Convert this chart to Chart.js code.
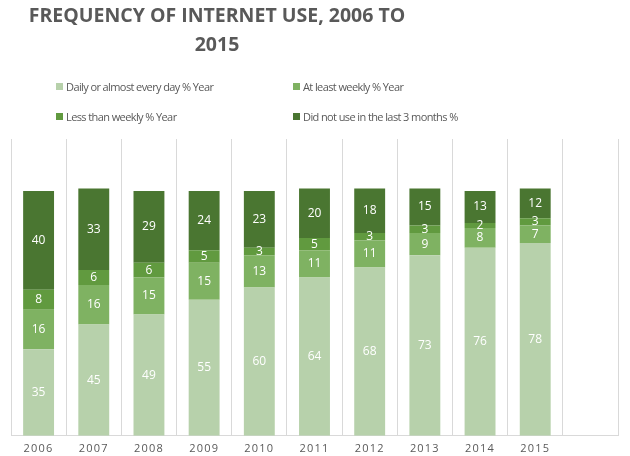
<!DOCTYPE html>
<html>
<head>
<meta charset="utf-8">
<script src="https://cdn.jsdelivr.net/npm/chart.js@4.4.1/dist/chart.umd.min.js"></script>
<style>
  body { margin: 0; background: #fff; }
  #wrap { position: relative; width: 630px; height: 456px; }
  #title {
    position: absolute; left: 0; top: 0; width: 434px;
    text-align: center; font-family: "Open Sans", sans-serif; font-weight: bold;
    font-size: 19.5px; line-height: 29px; color: #595959; letter-spacing: 0px;
  }
  #legend {
    position: absolute; left: 56px; top: 79px; width: 560px;
    font-family: "Open Sans", sans-serif; font-size: 11px; letter-spacing: -0.6px; color: #595959;
  }
  .item { position: absolute; white-space: nowrap; display: flex; align-items: center; }
  .box { width: 7px; height: 7px; margin-right: 3px; }
</style>
</head>
<body>
<div id="wrap">
  <canvas id="chart" width="630" height="456"></canvas>
  <div id="title">FREQUENCY OF INTERNET USE, 2006 TO<br>2015</div>
  <div id="legend"></div>
</div>
<script>
// Years on the x axis (last slot is left empty like the original)
const years = ['2006', '2007', '2008', '2009', '2010', '2011', '2012', '2013', '2014', '2015', ''];

// Series values
const daily = [35, 45, 49, 55, 60, 64, 68, 73, 76, 78];
const weekly = [16, 16, 15, 15, 13, 11, 11, 9, 8, 7];
const lessWeekly = [8, 6, 6, 5, 3, 5, 3, 3, 2, 3];
const notUsed = [40, 33, 29, 24, 23, 20, 18, 15, 13, 12];

const seriesNames = [
  'Daily or almost every day % Year',
  'At least weekly % Year',
  'Less than weekly % Year',
  'Did not use in the last 3 months %',
];
const colors = ['#b7d1ab', '#7fb262', '#619a3f', '#4a7631'];

// Spaced-out year labels, like the original axis
const spacedTicks = {
  id: 'spacedTicks',
  beforeDraw(chart) {
    chart.ctx.letterSpacing = '1.2px';
  },
};

// Draws the value in the middle of each bar segment
const valueLabels = {
  id: 'valueLabels',
  afterDatasetsDraw(chart) {
    const ctx = chart.ctx;
    ctx.save();
    ctx.letterSpacing = '0px';
    ctx.font = '12px "Open Sans", sans-serif';
    ctx.fillStyle = '#ffffff';
    ctx.textAlign = 'center';
    ctx.textBaseline = 'middle';
    chart.data.datasets.forEach((ds, i) => {
      const meta = chart.getDatasetMeta(i);
      meta.data.forEach((bar, j) => {
        const v = ds.data[j];
        if (v == null) return;
        ctx.fillText(String(v), bar.x, (bar.y + bar.base) / 2);
      });
    });
    ctx.restore();
  },
};

const datasets = [daily, weekly, lessWeekly, notUsed].map((values, i) => ({
  label: seriesNames[i],
  data: values,
  backgroundColor: colors[i],
  borderWidth: 0,
  categoryPercentage: 1,
  barPercentage: 0.56,
}));

new Chart(document.getElementById('chart'), {
  type: 'bar',
  data: { labels: years, datasets: datasets },
  options: {
    responsive: false,
    animation: false,
    layout: { padding: { top: 139, left: 11, right: 12, bottom: -5 } },
    plugins: {
      legend: { display: false },
      title: { display: false },
      tooltip: { enabled: false },
    },
    scales: {
      x: {
        stacked: true,
        grid: { color: '#d9d9d9', drawTicks: false, offset: true },
        border: { color: '#d9d9d9' },
        ticks: {
          color: '#595959',
          font: { family: '"Open Sans", sans-serif', size: 11 },
          padding: 6,
        },
      },
      y: { stacked: true, display: false, min: 0, max: 120 },
    },
  },
  plugins: [spacedTicks, valueLabels],
});

// Two-column legend like the original
const legend = document.getElementById('legend');
const spots = [[0, 0], [237, 0], [0, 30], [237, 30]];
seriesNames.forEach((name, i) => {
  const item = document.createElement('div');
  item.className = 'item';
  item.style.left = spots[i][0] + 'px';
  item.style.top = spots[i][1] + 'px';
  item.innerHTML = '<span class="box" style="background:' + colors[i] + '"></span>';
  item.appendChild(document.createTextNode(name));
  legend.appendChild(item);
});
</script>
</body>
</html>
